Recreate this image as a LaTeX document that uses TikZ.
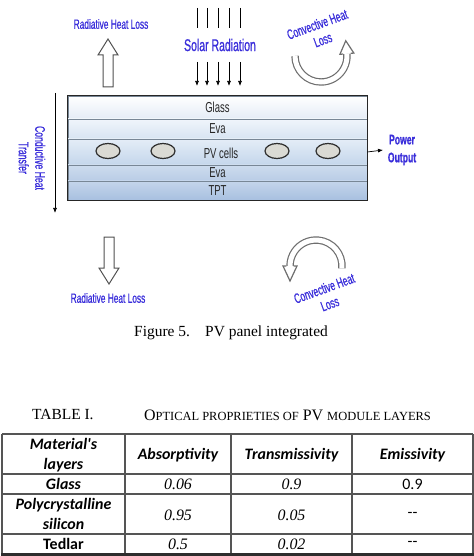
\documentclass[tikz,border=0pt]{standalone}
\usepackage{fontspec}
\setmainfont{Liberation Serif}
\newfontfamily\lbl[FakeStretch=0.62,FakeBold=0.8]{Liberation Sans}
\newfontfamily\lyr[FakeStretch=0.66]{Liberation Sans}
\newfontfamily\carl{Carlito}
\usetikzlibrary{arrows.meta,shapes.geometric}
\definecolor{lblblue}{RGB}{58,46,218}
\definecolor{tline}{RGB}{85,85,85}
\definecolor{sepgray}{RGB}{120,135,150}
\definecolor{arrgray}{RGB}{80,80,80}
\newcommand{\fsz}[1]{\fontsize{#1}{#1}\selectfont}
\begin{document}
\begin{tikzpicture}[x=1bp,y=-1bp,
  bluelbl/.style={text=lblblue,font=\lbl\fontsize{14}{16.5}\selectfont,align=center,inner sep=0pt},
  layerbox/.style={rectangle,draw=sepgray,line width=0.8bp,minimum width=299bp,inner sep=0pt,
     font=\lyr\fontsize{14.5}{14.5}\selectfont,text=black!85},
  cellov/.style={ellipse,draw={rgb,255:red,45;green,45;blue,45},line width=1.2bp,
     fill={rgb,255:red,218;green,218;blue,212},minimum width=24bp,minimum height=15bp,inner sep=0pt},
  thin arrow/.style={line width=0.7bp,-{Latex[length=5bp,width=4bp]}},
  hollow/.style={draw=arrgray,line width=1bp,fill=white,line join=miter},
  band/.style={draw={rgb,255:red,110;green,110;blue,110},line width=1.2bp,double=white,double distance=5bp},
  headln/.style={draw={rgb,255:red,110;green,110;blue,110},line width=1.2bp,line join=miter},
  tcell/.style={inner sep=0pt,align=center},
  hdr/.style={tcell,font=\carl\bfseries\itshape\fontsize{16}{20}\selectfont},
  val/.style={tcell,font=\itshape\fontsize{16}{16}\selectfont},
  cval/.style={tcell,font=\carl\fontsize{16}{16}\selectfont},
  tl/.style={draw=tline,line width=1.3bp}]
\useasboundingbox (0,0) rectangle (474,556);

% ---------- panel layers ----------
\node[layerbox,minimum height=23bp,top color=white,bottom color={rgb,255:red,228;green,236;blue,246}] (glass) at (217.5,107.5) {Glass};
\node[layerbox,minimum height=20bp,top color={rgb,255:red,240;green,245;blue,251},bottom color={rgb,255:red,215;green,228;blue,242}] (eva1) at (217.5,129) {Eva};
\node[layerbox,minimum height=26bp,top color={rgb,255:red,228;green,237;blue,247},bottom color={rgb,255:red,196;green,214;blue,235}] (pv) at (217.5,152) {};
\node[layerbox,minimum height=16bp,top color={rgb,255:red,205;green,220;blue,238},bottom color={rgb,255:red,185;green,204;blue,230}] (eva2) at (217.5,173) {Eva};
\node[layerbox,minimum height=19bp,top color={rgb,255:red,196;green,213;blue,235},bottom color={rgb,255:red,168;green,192;blue,224}] (tpt) at (217.5,190.5) {TPT};
\node[font=\lyr\fontsize{14.5}{14.5}\selectfont,text=black!85,inner sep=0pt] (pvlbl) at (221,153) {PV cells};
\draw[line width=1.5bp,black!85] (glass.north west) rectangle (tpt.south east);
\node[cellov] (c1) at (108,151) {};
\node[cellov] (c2) at (163,151) {};
\node[cellov] (c3) at (277,151) {};
\node[cellov] (c4) at (328,151) {};

% ---------- top ----------
\node[bluelbl,font=\lbl\fontsize{13.5}{15}\selectfont] (radtop) at (111,24) {Radiative Heat Loss};
\draw[hollow] (103,87) -- (103,55) -- (98,55) -- (108,39) -- (118,55) -- (113,55) -- (113,87) -- cycle;

\node[bluelbl,font=\lbl\fontsize{17}{18}\selectfont] (solar) at (220,45) {Solar Radiation};
\foreach \xx in {197,207,218,229,240}{
  \draw[line width=0.7bp] (\xx,8) -- (\xx,28);
  \draw[thin arrow] (\xx,62) -- (\xx,86);
}

\node[bluelbl,rotate=20] (convtop) at (320,32) {Convective Heat\\Loss};
\draw[band] (295,56) arc[start angle=180,end angle=365,radius=26bp];
\begin{scope}[shift={(346.9,53.7)},rotate=95]
  \fill[white] (0,-7bp) -- (13bp,0) -- (0,7bp) -- cycle;
  \draw[headln] (0,3.7bp) -- (0,7bp) -- (13bp,0) -- (0,-7bp) -- (0,-3.7bp);
\end{scope}

% ---------- left conductive ----------
\coordinate (condtop) at (55,93);
\coordinate (condbot) at (55,213);
\draw[thin arrow] (condtop) -- (condbot);
\node[bluelbl,rotate=-90] (cond) at (32,158) {Conductive Heat\\Transfer};

% ---------- power output ----------
\node[bluelbl,font=\lbl\bfseries\fontsize{14}{18}\selectfont] (power) at (402,150) {Power\\Output};
\coordinate (pwrend) at (383,150);
\draw[thin arrow] (tpt.east |- pv.east) -- (pwrend);

% ---------- bottom ----------
\draw[hollow] (104,237) -- (114,237) -- (114,268) -- (119,268) -- (109,284) -- (99,268) -- (104,268) -- cycle;
\node[bluelbl,font=\lbl\fontsize{13.5}{15}\selectfont] (radbot) at (108,298) {Radiative Heat Loss};

\draw[band] (341.9,268.3) arc[start angle=-5,end angle=180,radius=26bp];
\begin{scope}[shift={(290,266)},rotate=-90]
  \fill[white] (0,-7bp) -- (15bp,0) -- (0,7bp) -- cycle;
  \draw[headln] (0,3.7bp) -- (0,7bp) -- (15bp,0) -- (0,-7bp) -- (0,-3.7bp);
\end{scope}
\node[bluelbl,rotate=20] (convbot) at (327,296) {Convective Heat\\Loss};

% ---------- caption ----------
\node[anchor=west,inner sep=0pt,font=\fsz{15.5}] (figno) at (134,333) {Figure 5.};
\node[anchor=west,inner sep=0pt,font=\fsz{15.5}] (figcap) at (205,333) {PV panel integrated};

% ---------- table caption ----------
\node[anchor=west,inner sep=0pt,font=\fsz{15.5}] (tabno) at (32,415) {TABLE I.};
\node[inner sep=0pt,font=\fsz{16}] (tabcap) at (287.5,415) {O{\fsz{12.5}PTICAL PROPRIETIES OF} PV {\fsz{12.5}MODULE LAYERS}};

% ---------- table ----------
\draw[tl] (2,434) -- (473,434);
\draw[tl] (2,474) -- (473,474);
\draw[tl] (2,494) -- (473,494);
\draw[tl] (2,534) -- (473,534);
\foreach \xx in {2,125,231,352,473}{\draw[tl] (\xx,434) -- (\xx,555);}
\draw[draw={rgb,255:red,45;green,45;blue,45},line width=2.6bp] (1,554.7) -- (474,554.7);

\node[hdr] (h1) at (63.5,455) {Material's\\layers};
\node[hdr] (h2) at (178,455) {Absorptivity};
\node[hdr] (h3) at (291.5,455) {Transmissivity};
\node[hdr] (h4) at (412.5,455) {Emissivity};

\node[hdr] (r1) at (63.5,484) {Glass};
\node[val] (r1a) at (178,484) {0.06};
\node[val] (r1b) at (291.5,484) {0.9};
\node[cval] (r1c) at (412.5,484) {0.9};

\node[hdr] (r2) at (63.5,514) {Polycrystalline\\silicon};
\node[val] (r2a) at (178,515) {0.95};
\node[val] (r2b) at (291.5,515) {0.05};
\node[cval] (r2c) at (412.5,515) {--};

\node[tcell,font=\carl\bfseries\fontsize{16}{16}\selectfont] (r3) at (63.5,544) {Tedlar};
\node[val] (r3a) at (178,544) {0.5};
\node[val] (r3b) at (291.5,544) {0.02};
\node[cval] (r3c) at (412.5,544) {--};
\end{tikzpicture}
\end{document}
